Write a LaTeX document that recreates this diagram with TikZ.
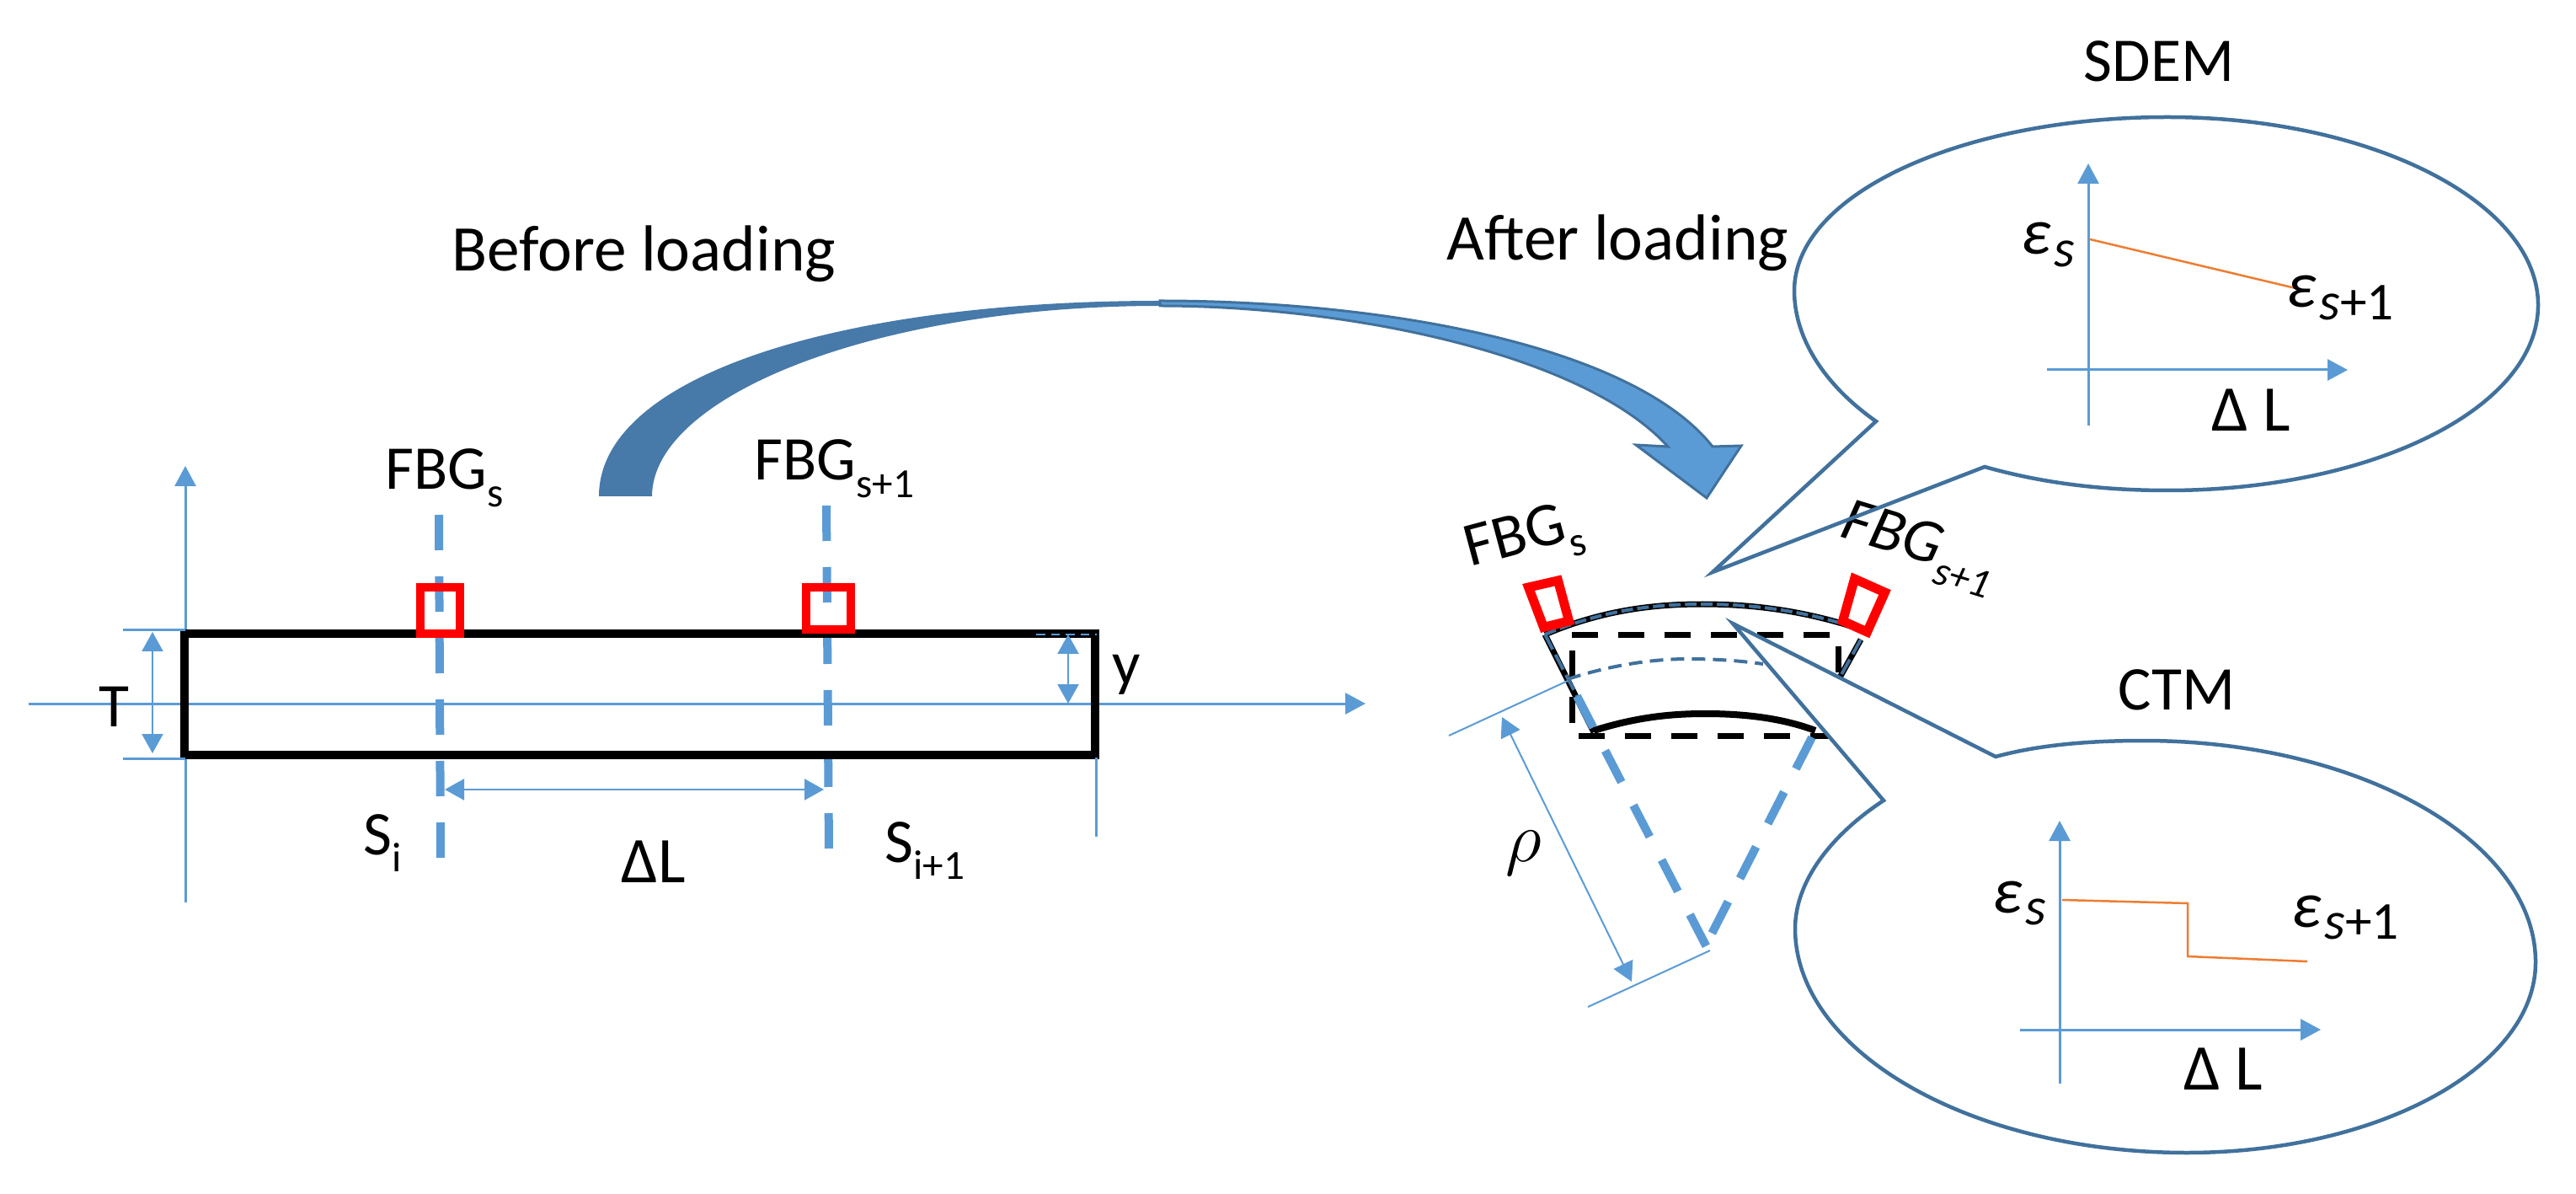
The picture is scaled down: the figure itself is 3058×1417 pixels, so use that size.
\documentclass[tikz,border=0pt]{standalone}
\usepackage{fix-cm}
\usepackage{amsmath}
\usepackage{fontspec}
\setmainfont{Carlito}
\usetikzlibrary{arrows.meta}
\definecolor{axisblue}{HTML}{5B9BD5}
\definecolor{edgeblue}{HTML}{41719C}
\definecolor{arrowdark}{HTML}{4779A9}
\definecolor{curveorange}{HTML}{ED7D31}
\definecolor{gaugered}{HTML}{FF0000}
\newcommand{\lowsub}[1]{\raisebox{-0.28em}{\fontsize{14}{14}\selectfont #1}}
\newcommand{\strainsym}[1]{\textit{ε}\kern 0.04em\raisebox{-4pt}{\fontsize{18}{18}\selectfont #1}}
\tikzset{
  lbl/.style={inner sep=0pt, anchor=base west, font=\fontsize{21}{24}\selectfont},
  toplbl/.style={lbl, font=\fontsize{22}{24}\selectfont},
  thinaxis/.style={draw=axisblue, line width=0.3mm},
  dimline/.style={draw=axisblue, line width=0.25mm, {Triangle[length=2.3mm, width=2.5mm]}-{Triangle[length=2.3mm, width=2.5mm]}},
  axisarrow/.style={thinaxis, -{Triangle[length=2.4mm, width=2.5mm]}},
  section/.style={draw=axisblue, line width=1mm, dash pattern=on 4.2mm off 3.1mm},
  gauge/.style={draw=gaugered, line width=1mm},
  beam/.style={draw=black, line width=1mm},
  blackdash/.style={draw=black, line width=0.7mm, dash pattern=on 3.1mm off 2.4mm},
  callout/.style={draw=edgeblue, line width=0.45mm, line join=miter},
  strain/.style={draw=curveorange, line width=0.25mm}
}
\begin{document}
\begin{tikzpicture}[x=0.1mm, y=-0.1mm]
  \useasboundingbox (0, 0) rectangle (3058, 1417);
  % beam axes, drawn first so the beam sits on top
  \draw [axisarrow] (220, 1071) -- (220, 553);
  \draw [axisarrow] (34, 835) -- (1621, 835);
  % section lines
  \draw [section] (521, 611) -- (523, 1019);
  \draw [section] (981, 600) -- (984, 1009);
  % beam
  \draw [beam] (219, 752) rectangle (1300, 896);
  % gauges on the beam
  \draw [gauge] (499, 697) rectangle (546, 752);
  \draw [gauge] (957, 697) rectangle (1010, 747);
  % dimensions of the beam
  \draw [thinaxis] (146, 748) -- (220, 748);
  \draw [thinaxis] (146, 900) -- (220, 900);
  \draw [dimline] (181, 750) -- (181, 894);
  \draw [dimline] (528, 937) -- (978, 937);
  \draw [dimline] (1268, 753) -- (1268, 835);
  \draw [axisblue, line width=0.25mm, densely dashed] (1230, 753) -- (1302, 753);
  \draw [thinaxis] (1301, 899) -- (1301, 993);
  % beam labels
  \node [lbl] (fbgA) at (457, 581) {FBG\lowsub{s}};
  \node [lbl] (fbgB) at (895, 570) {FBG\lowsub{s+1}};
  \node [lbl] (thick) at (117, 862) {T};
  \node [lbl] (ydist) at (1320, 812) {y};
  \node [lbl] (secA) at (431, 1014) {S\lowsub{i}};
  \node [lbl] (secB) at (1050, 1023) {S\lowsub{i+1}};
  \node [toplbl] (spacing) at (737, 1047) {ΔL};
  \node [toplbl] (before) at (536, 322) {Before loading};
  \node [toplbl] (after) at (1717, 309) {After loading};
  % big curved arrow
  \fill [arrowdark] (711, 589) .. controls (711, 445) and (1000, 357) .. (1377, 357)
    -- (1377, 363) .. controls (1040, 363) and (774, 470) .. (774, 589) -- cycle;
  \filldraw [fill=axisblue, draw=edgeblue, line width=0.3mm, line join=miter]
    (1377, 357) .. controls (1650, 357) and (1940, 412) .. (2033, 530)
    -- (2067, 529) -- (2026, 591) -- (1942, 528) -- (1980, 530)
    .. controls (1880, 420) and (1600, 363) .. (1377, 363) -- cycle;
  % bent segment, black under blue
  \draw [blackdash] (1866, 753.5) -- (2173, 753.5);
  \draw [blackdash] (1874, 873.5) -- (2171, 873.5);
  \draw [blackdash] (1866.5, 772) -- (1866.5, 859);
  \draw [blackdash] (2182, 767) -- (2182, 802);
  \draw [black, line width=0.7mm] (1834, 753) -- (1892, 869);
  \draw [black, line width=0.7mm] (2209, 759) -- (2184, 804);
  \draw [black, line width=0.7mm] (1834, 753) .. controls (1900, 725) and (1960, 717) .. (2021, 717)
    .. controls (2082, 717) and (2140, 725) .. (2200, 744);
  \draw [black, line width=0.8mm] (1892, 867) .. controls (1940, 852) and (1980, 847) .. (2024, 847)
    .. controls (2070, 847) and (2115, 852) .. (2155, 867);
  \draw [edgeblue, line width=0.4mm, dash pattern=on 1.4mm off 0.5mm] (1834, 753) .. controls (1900, 725) and (1960, 717) .. (2021, 717)
    .. controls (2082, 717) and (2140, 725) .. (2200, 744);
  \draw [edgeblue, line width=0.4mm, dash pattern=on 2mm off 0.7mm] (1834, 753) -- (1872, 826);
  \draw [edgeblue, line width=0.4mm, dash pattern=on 2mm off 0.7mm] (2209, 759) -- (2184, 804);
  \draw [edgeblue, line width=0.4mm, dash pattern=on 1.6mm off 0.9mm] (1861, 806) .. controls (1910, 790) and (1960, 782) .. (2004, 782)
    .. controls (2035, 782) and (2065, 784) .. (2093, 788);
  % radius lines
  \draw [section] (1872, 826) -- (2026, 1124);
  \draw [section] (2151, 875) -- (2030, 1112);
  % tilted gauges
  \draw [gauge, line width=1.1mm] (1814.5, 697) -- (1849.5, 689) -- (1862.5, 737) -- (1832.5, 744.5) -- cycle;
  \draw [gauge, line width=1.1mm] (2201.5, 687) -- (2237.5, 703) -- (2216.5, 750) -- (2187.5, 737) -- cycle;
  \node [lbl, rotate=15] (fbgC) at (1745, 673) {FBG\lowsub{s}};
  \node [lbl, rotate=-17, font=\fontsize{21}{24}\selectfont\itshape] (fbgD) at (2182, 636) {FBG\lowsub{s+1}};
  % radius dimension
  \draw [axisblue, line width=0.2mm] (1720, 873) -- (1861, 808);
  \draw [axisblue, line width=0.2mm] (1885, 1195) -- (2030, 1128);
  \draw [dimline, line width=0.2mm] (1783, 851) -- (1937, 1165);
  \node [lbl, font=\fontsize{24}{30}\selectfont] (radius) at (1787, 1022) {$\rho$};
  % SDEM callout
  \draw [callout] (2033, 679) -- (2227, 500) .. controls (2170, 460) and (2130, 405) .. (2130, 345)
    .. controls (2130, 230) and (2330, 139) .. (2573, 139)
    .. controls (2815, 139) and (3013, 240) .. (3013, 362)
    .. controls (3013, 485) and (2815, 582) .. (2573, 582)
    .. controls (2490, 582) and (2420, 572) .. (2356, 554) -- cycle;
  \node [lbl] (sdem) at (2473, 97) {SDEM};
  \draw [axisarrow] (2479, 505) -- (2479, 194);
  \draw [axisarrow] (2430, 439) -- (2787, 439);
  \draw [strain] (2481, 284) -- (2729, 343);
  \node [toplbl] (sdemA) at (2399, 302) {\strainsym{\textit{s}}};
  \node [toplbl] (sdemB) at (2714, 365) {\strainsym{\textit{s}+1}};
  \node [toplbl] (sdemL) at (2625, 512) {Δ L};
  % CTM callout
  \draw [callout] (2057, 740) -- (2236, 950) .. controls (2175, 990) and (2131, 1045) .. (2131, 1102)
    .. controls (2131, 1248) and (2340, 1368) .. (2596, 1368)
    .. controls (2824, 1368) and (3010, 1266) .. (3010, 1142)
    .. controls (3010, 997) and (2800, 879) .. (2544, 879)
    .. controls (2480, 879) and (2420, 884) .. (2369, 898) -- cycle;
  \node [lbl] (ctm) at (2514, 842) {CTM};
  \draw [axisarrow] (2445, 1286) -- (2445, 974);
  \draw [axisarrow] (2398, 1222) -- (2755, 1222);
  \draw [strain] (2448, 1068) -- (2597, 1072) -- (2597, 1135) -- (2739, 1141);
  \node [toplbl] (ctmA) at (2365, 1083) {\strainsym{\textit{s}}};
  \node [toplbl] (ctmB) at (2720, 1100) {\strainsym{\textit{s}+1}};
  \node [toplbl] (ctmL) at (2592, 1293) {Δ L};
\end{tikzpicture}
\end{document}
